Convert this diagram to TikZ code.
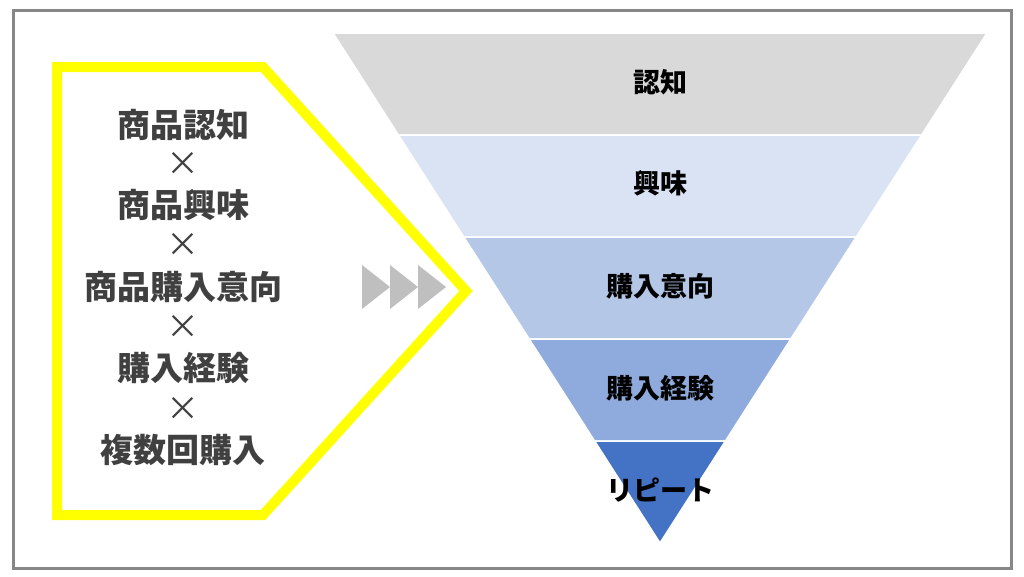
\documentclass[tikz,border=0pt]{standalone}
\usepackage{fontspec}
\newfontfamily\cjk{Noto Sans CJK JP}
\begin{document}
\begin{tikzpicture}[x=1pt,y=-1pt]
\definecolor{frame}{HTML}{878787}
\definecolor{lefttext}{HTML}{404040}
\definecolor{arrowgray}{HTML}{BFBFBF}
\definecolor{lay1}{HTML}{D9D9D9}
\definecolor{lay2}{HTML}{DAE3F3}
\definecolor{lay3}{HTML}{B4C7E7}
\definecolor{lay4}{HTML}{8FAADC}
\definecolor{lay5}{HTML}{4472C4}
\definecolor{hiyellow}{HTML}{FFFF00}
\tikzset{
  lefttxt/.style={font=\cjk\bfseries\fontsize{33}{36}\selectfont, text=lefttext, inner sep=0pt, anchor=center},
  timestxt/.style={font=\cjk\fontsize{33}{36}\selectfont, text=lefttext, inner sep=0pt, anchor=center},
  funtxt/.style={font=\cjk\bfseries\fontsize{27}{30}\selectfont, text=black, inner sep=0pt, anchor=center},
  layer/.style={draw=white, line width=1.5pt, line join=miter},
  chev/.style={fill=arrowgray},
}
\useasboundingbox (0,0) rectangle (1024,576);
\fill[white] (0,0) rectangle (1024,576);
\draw[frame, line width=3pt] (13,10.5) rectangle (1011,568);
% yellow pentagon
\draw[hiyellow, line width=10pt, line join=miter] (57,67) -- (263,67) -- (466,291) -- (263,515) -- (57,515) -- cycle;
% chevrons
\fill[chev] (362,265) -- (390,287) -- (362,309) -- cycle;
\fill[chev] (390,265) -- (418,287) -- (390,309) -- cycle;
\fill[chev] (418,265) -- (446,287) -- (418,309) -- cycle;
% funnel
\filldraw[layer, fill=lay1] (333,33) -- (987,33) -- (921.6,135) -- (398.4,135) -- cycle;
\filldraw[layer, fill=lay2] (398.4,135) -- (921.6,135) -- (856.2,237) -- (463.8,237) -- cycle;
\filldraw[layer, fill=lay3] (463.8,237) -- (856.2,237) -- (790.8,339) -- (529.2,339) -- cycle;
\filldraw[layer, fill=lay4] (529.2,339) -- (790.8,339) -- (725.4,441) -- (594.6,441) -- cycle;
\filldraw[layer, fill=lay5] (594.6,441) -- (725.4,441) -- (660,543) -- cycle;
\node[funtxt] (f1) at (660,82) {認知};
\node[funtxt] (f2) at (660,183) {興味};
\node[funtxt] (f3) at (660,286) {購入意向};
\node[funtxt] (f4) at (660,388) {購入経験};
\node[funtxt] (f5) at (660,490) {リピート};
% left text
\node[lefttxt] (l1) at (183,125) {商品認知};
\node[timestxt] (x1) at (183,164) {×};
\node[lefttxt] (l2) at (183,205) {商品興味};
\node[timestxt] (x2) at (183,245) {×};
\node[lefttxt] (l3) at (183,287) {商品購入意向};
\node[timestxt] (x3) at (183,327) {×};
\node[lefttxt] (l4) at (183,368) {購入経験};
\node[timestxt] (x4) at (183,409) {×};
\node[lefttxt] (l5) at (183,450) {複数回購入};
\end{tikzpicture}
\end{document}
